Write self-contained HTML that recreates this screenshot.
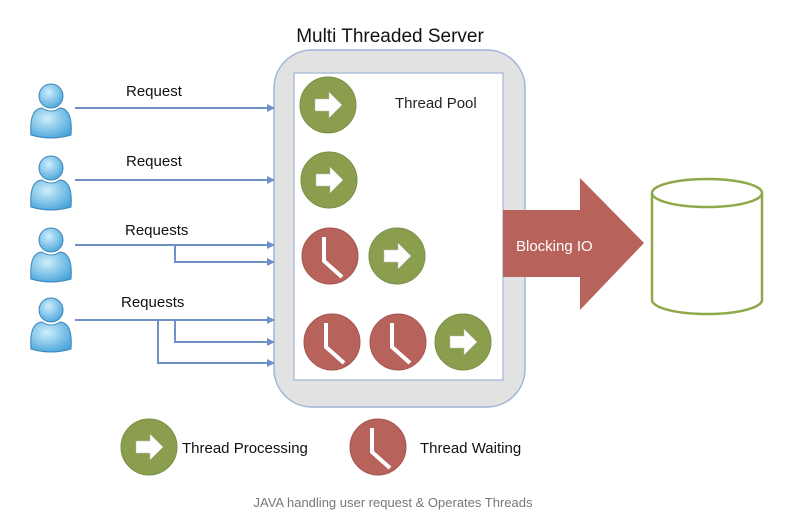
<!DOCTYPE html>
<html><head><style>body{margin:0;background:#fff}svg{display:block}text{font-family:"Liberation Sans",sans-serif}</style></head><body>
<svg width="800" height="531" viewBox="0 0 800 531" xmlns="http://www.w3.org/2000/svg">
<defs>
<radialGradient id="pg" cx="0.4" cy="0.35" r="0.7"><stop offset="0" stop-color="#cfeefb"/><stop offset="1" stop-color="#4aa6dc"/></radialGradient>
<marker id="ah" markerWidth="8" markerHeight="8" refX="7" refY="4" orient="auto" markerUnits="userSpaceOnUse"><path d="M0,0 L8,4 L0,8 Z" fill="#7090c8"/></marker>
<g id="grn"><circle r="28" fill="#8a9e4e" stroke="#7a8f45" stroke-width="1"/><path d="M-13,-6 H1 V-13 L14,0 L1,13 V6 H-13 Z" fill="#fff" stroke="#bbb" stroke-width="0.5"/></g>
<g id="red"><circle r="28" fill="#b8625c" stroke="#a45550" stroke-width="1"/><path d="M-6,-19 V5 L12,21" fill="none" stroke="#fff" stroke-width="4"/></g>
<g id="person"><circle cx="0" cy="-14" r="12" fill="url(#pg)" stroke="#3b87b8"/><path d="M-20,25 Q-22,-1 -9,-2 Q0,4 9,-2 Q22,-1 20,25 Q0,31 -20,25 Z" fill="url(#pg)" stroke="#3b87b8"/></g>
</defs>
<text x="390" y="42" font-size="19" text-anchor="middle" fill="#111">Multi Threaded Server</text>
<rect x="274" y="50" width="251" height="357" rx="38" fill="#e2e2e2" stroke="#9fb5d6" stroke-width="1.5"/>
<rect x="294" y="73" width="209" height="307" fill="#fff" stroke="#9fb5d6" stroke-width="1.2"/>
<text x="395" y="108" font-size="15" fill="#222">Thread Pool</text>
<use href="#grn" x="328" y="105"/>
<use href="#grn" x="329" y="180"/>
<use href="#red" x="330" y="256"/>
<use href="#grn" x="397" y="256"/>
<use href="#red" x="332" y="342"/>
<use href="#red" x="398" y="342"/>
<use href="#grn" x="463" y="342"/>
<path d="M503,210 H580 V178 L644,243 L580,310 V277 H503 Z" fill="#b8625c"/>
<text x="516" y="251" font-size="15" fill="#fff">Blocking IO</text>
<path d="M652,193 V300 A55,14 0 0 0 762,300 V193" fill="#fff" stroke="#8fa84a" stroke-width="2.5"/>
<ellipse cx="707" cy="193" rx="55" ry="14" fill="#fff" stroke="#8fa84a" stroke-width="2.5"/>
<use href="#person" x="51" y="110"/>
<use href="#person" x="51" y="182"/>
<use href="#person" x="51" y="254"/>
<use href="#person" x="51" y="324"/>
<g stroke="#7090c8" stroke-width="2" fill="none" marker-end="url(#ah)">
<path d="M75,108 H274"/>
<path d="M75,180 H274"/>
<path d="M75,245 H274"/>
<path d="M175,245 V262 H274"/>
<path d="M75,320 H274"/>
<path d="M175,320 V342 H274"/>
<path d="M158,320 V363 H274"/>
</g>
<g font-size="15" fill="#111">
<text x="126" y="96">Request</text>
<text x="126" y="166">Request</text>
<text x="125" y="235">Requests</text>
<text x="121" y="307">Requests</text>
</g>
<use href="#grn" x="149" y="447"/>
<text x="182" y="453" font-size="15" fill="#111">Thread Processing</text>
<use href="#red" x="378" y="447"/>
<text x="420" y="453" font-size="15" fill="#111">Thread Waiting</text>
<text x="393" y="507" font-size="13" fill="#777" text-anchor="middle">JAVA handling user request &amp; Operates Threads</text>
</svg>
</body></html>
